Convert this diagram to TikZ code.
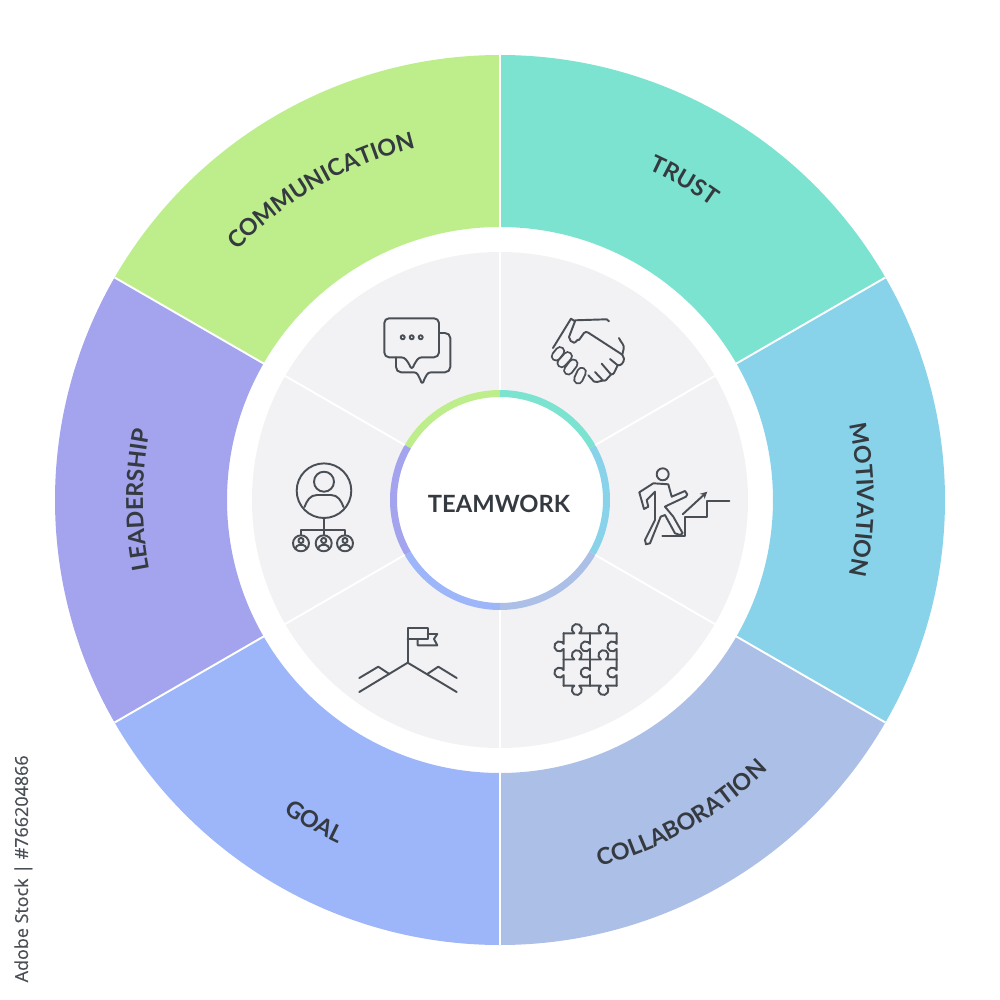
\documentclass[tikz,border=0pt]{standalone}
\usepackage{fontspec}
\setmainfont{Lato}[BoldFont={Lato Bold}]
\newfontfamily\stockfont{Open Sans}[FakeBold=0.5]
\usetikzlibrary{arrows.meta,decorations.text}
\definecolor{commgreen}{HTML}{BEEE8C}
\definecolor{trustteal}{HTML}{7BE3CF}
\definecolor{motivblue}{HTML}{88D3EA}
\definecolor{collabblue}{HTML}{ACBFE6}
\definecolor{goalblue}{HTML}{9DB6FA}
\definecolor{leadviolet}{HTML}{A3A3EE}
\definecolor{panelgray}{HTML}{F2F2F5}
\definecolor{icongray}{HTML}{4A4F55}
\definecolor{inkgray}{HTML}{343A40}
\def\labelfont{\fontsize{6.6}{8}\selectfont\bfseries\color{inkgray}}
\def\ringsector[#1](#2:#3:#4:#5)% Syntax: [fill options] (start angle:end angle:inner radius:outer radius)
    { \fill[#1] (#2:#4) arc (#2:#3:#4) -- (#3:#5) arc (#3:#2:#5) -- cycle; }
\def\arclabel(#1:#2:#3)#4% Syntax: (start angle:end angle:baseline radius) {text}
    { \path[decorate,decoration={text along path,text align=center,text={|\labelfont|#4}}] (#1:#3) arc (#1:#2:#3); }
\def\knob(#1)(#2)% Syntax: (edge centre) (rotation)
    { \draw[iconline,shift={(#1)},rotate=#2] (-13.3,0) -- (-2.5,0) arc (120:420:5) -- (13.3,0); }

\begin{document}
\begin{tikzpicture}
    [x=0.01cm,y=0.01cm,
     spoke/.style={white,line width=0.55pt},
     pixels/.style={yscale=-1,shift={(-500,-500)}},
     iconline/.style={draw=icongray,line width=0.55pt,line join=round,line cap=round},
     finger/.style={iconline,double=panelgray,double distance=0.65mm}]
    \useasboundingbox (-500,-500) rectangle (500,500);

    % outer band
    \ringsector[commgreen](90:150:273:445)
    \ringsector[trustteal](30:90:273:445)
    \ringsector[motivblue](-30:30:273:445)
    \ringsector[collabblue](-90:-30:273:445)
    \ringsector[goalblue](-150:-90:273:445)
    \ringsector[leadviolet](150:210:273:445)

    % icon disc and middle ring
    \fill[panelgray] (0,0) circle (248);
    \fill[white] (0,0) circle (104);
    \ringsector[commgreen](90:150:103:110)
    \ringsector[trustteal](30:90:103:110)
    \ringsector[motivblue](-30:30:103:110)
    \ringsector[collabblue](-90:-30:103:110)
    \ringsector[goalblue](-150:-90:103:110)
    \ringsector[leadviolet](150:210:103:110)

    \draw[spoke] (90:110) -- (90:445);
    \draw[spoke] (30:110) -- (30:445);
    \draw[spoke] (-30:110) -- (-30:445);
    \draw[spoke] (-90:110) -- (-90:445);
    \draw[spoke] (-150:110) -- (-150:445);
    \draw[spoke] (150:110) -- (150:445);

    \node[font=\fontsize{6.75}{8}\selectfont\bfseries,text=inkgray] (teamwork) at (-1,-4) {TEAMWORK};

    \arclabel(150:90:362){COMMUNICATION}
    \arclabel(90:30:362){TRUST}
    \arclabel(30:-30:357){MOTIVATION}
    \arclabel(-90:-30:380){COLLABORATION}
    \arclabel(-150:-90:380){GOAL}
    \arclabel(210:150:357){LEADERSHIP}

    \node[font=\stockfont\fontsize{5.1}{6}\selectfont,text=icongray,rotate=90,anchor=base west,inner sep=0pt] (stockid) at (-472,-483) {Adobe Stock | \#766204866};

    \begin{scope}[pixels]
        % chat bubbles
        \draw[iconline] (439,333) -- (445,333) to[out=0,in=-90] (450.3,338) -- (450.3,367) to[out=90,in=0] (445,372.3)
            -- (431,372.3) to[out=180,in=-60] (424,380) to[out=120,in=0] (422.3,383) to[out=180,in=60] (420.5,380) to[out=-120,in=0] (414,372.3)
            -- (401,372.3) to[out=180,in=90] (396,367) -- (396,357.3);
        \draw[iconline] (389,318.3) -- (434,318.3) to[out=0,in=-90] (439,323) -- (439,352.5) to[out=90,in=0] (434,357.3)
            -- (422,357.3) to[out=180,in=-60] (414,365) to[out=120,in=0] (411.7,368) to[out=180,in=60] (409.5,365) to[out=-120,in=0] (401,357.3)
            -- (389,357.3) to[out=180,in=90] (384.3,352.5) -- (384.3,323) to[out=-90,in=180] (389,318.3);
        \draw[iconline] (402.7,337.3) circle (2);
        \draw[iconline] (411.7,337.3) circle (2);
        \draw[iconline] (420.7,337.3) circle (2);

        % handshake
        \draw[iconline] (553,348) -- (571,318.7) -- (575,321.3) -- (569,337) to[out=75,in=180] (574,342.7) to[out=0,in=-125] (579,340) -- (584,333) to[out=-50,in=-150] (588,332.5) -- (622.3,354.7);
        \draw[iconline] (575,320.3) -- (606.7,319.3) -- (609,321.3);
        \draw[iconline] (619,338) to[out=70,in=-80] (623.7,348.7) -- (622.3,354.7) -- (624,358.7) to[out=90,in=10] (617.7,365.3) -- (610,359);
        \draw[iconline] (617.7,365.3) -- (614.5,372) to[out=100,in=0] (611,374.5) -- (601.7,363.7);
        \draw[iconline] (611,374.5) -- (606,380) to[out=110,in=-10] (603,380.5) -- (595,372);
        \draw[iconline] (603,380.5) -- (597,382) to[out=170,in=30] (594,381.5) -- (588.3,375.3);
        \draw[finger] (581.7,372) -- (578.3,379.3);
        \draw[finger] (573.3,363.7) -- (568.3,370.3);
        \draw[finger] (567.7,356.3) -- (561.7,363);
        \draw[finger] (560,351.3) -- (556,356.3);

        % person with team
        \draw[iconline] (324,490.7) circle (27.3);
        \draw[iconline] (324,481.7) circle (10);
        \draw[iconline] (304.5,507) to[out=-70,in=180] (317,495) -- (331,495) to[out=0,in=-110] (343.5,507);
        \draw[iconline] (324,518) -- (324,535);
        \draw[iconline] (301,535.5) -- (301,530) -- (345,530) -- (345,535.5);
        \draw[iconline] (301,543.3) circle (8);
        \draw[iconline] (323.7,543.3) circle (8);
        \draw[iconline] (345,543.3) circle (8);
        \draw[iconline] (301,540.5) circle (2.6);
        \draw[iconline] (323.7,540.5) circle (2.6);
        \draw[iconline] (345,540.5) circle (2.6);
        \draw[iconline] (295.5,549) to[out=-80,in=180] (299,545) -- (303,545) to[out=0,in=-100] (306.5,549);
        \draw[iconline] (318.2,549) to[out=-80,in=180] (321.7,545) -- (325.7,545) to[out=0,in=-100] (329.2,549);
        \draw[iconline] (339.5,549) to[out=-80,in=180] (343,545) -- (347,545) to[out=0,in=-100] (350.5,549);

        % climber on stairs
        \draw[iconline] (662.7,474.3) circle (6);
        \draw[iconline] (639.3,492.3) -- (653.3,483.3) -- (668.3,484.3) -- (671.7,496.7) -- (685,491) -- (687.3,494.3) -- (686,496.7) -- (668.3,505) -- (665,506.7)
            -- (673.3,516.7) -- (682.7,533.3) -- (680,535) -- (675,533.3) -- (665,515) -- (660.7,516.7) -- (650,543.3) -- (646,544.3) -- (645,540) -- (655,520)
            -- (655,491.7) -- (646.7,500) -- (648.3,506.7) -- (644,509) -- cycle;
        \draw[iconline] (662.3,535.7) -- (685,535.7) -- (685,517.3) -- (707.3,517.3) -- (707.3,500.7) -- (729.3,500.7);
        \draw[iconline,-{Stealth[length=0.7mm,width=0.7mm]}] (682.7,514.3) -- (707.3,491.7);

        % flag on summit
        \draw[iconline] (407.7,662.7) -- (407.7,628.3) -- (427.7,628.3) -- (427.7,639) -- (407.7,639);
        \draw[iconline] (427.7,634) -- (437.3,634) -- (434,639) -- (437.3,645.3) -- (417.7,645.3) -- (417.7,639);
        \draw[iconline] (359.3,692) -- (407.7,662.7) -- (456.7,692);
        \draw[iconline] (359.3,678) -- (378.3,666.7) -- (389.3,674);
        \draw[iconline] (427.3,674) -- (438.3,666.7) -- (456.7,678);

        % puzzle
        \knob(576.8,633.3)(0)
        \knob(603.4,633.3)(0)
        \knob(576.8,659.5)(0)
        \knob(603.4,659.5)(0)
        \knob(576.8,685.7)(180)
        \knob(603.4,685.7)(180)
        \knob(563.7,646.4)(-90)
        \knob(563.7,672.6)(-90)
        \knob(590,646.4)(-90)
        \knob(590,672.6)(-90)
        \knob(616.7,646.4)(-90)
        \knob(616.7,672.6)(-90)
    \end{scope}
\end{tikzpicture}
\end{document}
